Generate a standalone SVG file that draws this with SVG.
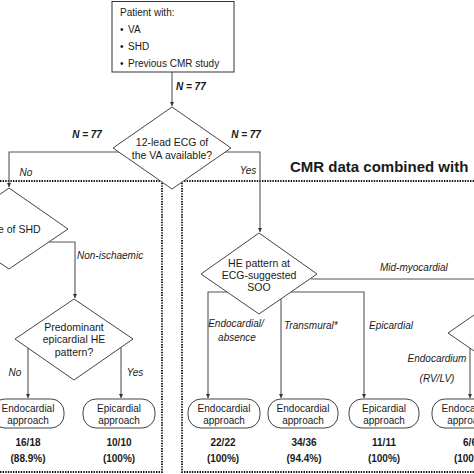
<svg xmlns="http://www.w3.org/2000/svg" width="474" height="474" viewBox="0 0 474 474">
<style>
text{font-family:"Liberation Sans",Arial,sans-serif;font-size:10px;fill:#1a1a1a;text-anchor:middle}
.i{font-style:italic}
.b{font-weight:bold}
.s{text-anchor:start}
.d{font-size:10.5px}
.shape{fill:#fff;stroke:#444;stroke-width:1}
.con{fill:none;stroke:#555;stroke-width:1.1}
.dot{fill:none;stroke:#111;stroke-width:1.8;stroke-dasharray:1.4 1.2}
</style>
<defs>
<marker id="ah" viewBox="0 0 6 6" refX="6" refY="3" markerWidth="4.5" markerHeight="4.5" orient="auto" markerUnits="userSpaceOnUse"><path d="M0,0 L6,3 L0,6 z" fill="#333"/></marker>
</defs>
<rect width="474" height="474" fill="#fff"/>

<g id="panels">
<path class="dot" d="M0,181 H162 V472 H0"/>
<path class="dot" d="M474,181 H182 V472 H474"/>
</g>

<g id="connectors">
<path class="con" d="M172,72 V106" marker-end="url(#ah)"/>
<path class="con" d="M119,152 H9 V187" marker-end="url(#ah)"/>
<path class="con" d="M225,152 H260 V232" marker-end="url(#ah)"/>
<path class="con" d="M49,242 H75 V298" marker-end="url(#ah)"/>
<path class="con" d="M28,348 V398" marker-end="url(#ah)"/>
<path class="con" d="M121,347 V398" marker-end="url(#ah)"/>
<path class="con" d="M228,292 H208 V398" marker-end="url(#ah)"/>
<path class="con" d="M281,299 V398" marker-end="url(#ah)"/>
<path class="con" d="M291,292 H364 V398" marker-end="url(#ah)"/>
<path class="con" d="M311,279 H474"/>
<path class="con" d="M470,348 V398" marker-end="url(#ah)"/>
</g>

<g id="labels">
<text class="b i" x="87" y="138">N = 77</text>
<text class="b i" x="246" y="138">N = 77</text>
<text class="b i s" x="176" y="90">N = 77</text>
<text class="i" x="26" y="176">No</text>
<text class="i" x="248" y="174">Yes</text>
<text class="i s" x="77" y="258.5">Non-ischaemic</text>
<text class="i" x="15" y="375.5">No</text>
<text class="i" x="135" y="375.5">Yes</text>
<text class="i" x="236" y="326.5">Endocardial/</text>
<text class="i" x="237" y="341">absence</text>
<text class="i s" x="284" y="329">Transmural*</text>
<text class="i s" x="369" y="329">Epicardial</text>
<text class="i s" x="380" y="271">Mid-myocardial</text>
<text class="i" x="437" y="362">Endocardium</text>
<text class="i" x="437" y="382">(RV/LV)</text>
<text class="b s" x="290" y="172" style="font-size:15px">CMR data combined with</text>
</g>

<g id="patient">
<rect class="shape" x="112" y="1.5" width="122" height="70.5" style="stroke:#333"/>
<text class="s" x="120" y="16">Patient with:</text>
<text class="s"><tspan x="120" y="33">•</tspan><tspan x="128" y="33">VA</tspan></text>
<text class="s"><tspan x="120" y="50">•</tspan><tspan x="128" y="50">SHD</tspan></text>
<text class="s"><tspan x="120" y="67">•</tspan><tspan x="128" y="67">Previous CMR study</tspan></text>
</g>

<g id="ecg">
<path class="shape" d="M172,107 L231,148 L172,189 L113,148 Z"/>
<text class="d" x="172" y="145.5">12-lead ECG of</text>
<text class="d" x="172" y="158.5">the VA available?</text>
</g>

<g id="shd">
<path class="shape" d="M9,188 L68,229 L9,269 L-50,229 Z"/>
<text class="s d" x="-2" y="232.5">e of SHD</text>
</g>

<g id="epihe">
<path class="shape" d="M74,299 L133,339 L74,380 L15,339 Z"/>
<text class="d" x="74" y="330.5">Predominant</text>
<text class="d" x="74" y="343">epicardial HE</text>
<text class="d" x="74" y="355.5">pattern?</text>
</g>

<g id="hesoo">
<path class="shape" d="M259,233 L317,274 L259,314 L201,274 Z"/>
<text class="d" x="259" y="266.5">HE pattern at</text>
<text class="d" x="259" y="278.5">ECG-suggested</text>
<text class="d" x="259" y="290.5">SOO</text>
</g>

<g id="midmyo">
<path class="shape" d="M506,293 L564,333 L506,373 L448,333 Z"/>
</g>

<g id="r1">
<rect class="shape" x="-8" y="399" width="72" height="29" rx="13"/>
<text x="28" y="411.5">Endocardial</text><text x="28" y="423.5">approach</text>
<text class="b" x="28" y="445.5">16/18</text><text class="b" x="28" y="461.5">(88.9%)</text>
</g>
<g id="r2">
<rect class="shape" x="83" y="399" width="72" height="29" rx="13"/>
<text x="119" y="411.5">Epicardial</text><text x="119" y="423.5">approach</text>
<text class="b" x="119" y="445.5">10/10</text><text class="b" x="119" y="461.5">(100%)</text>
</g>
<g id="r3">
<rect class="shape" x="188" y="399" width="72" height="29" rx="13"/>
<text x="224" y="411.5">Endocardial</text><text x="224" y="423.5">approach</text>
<text class="b" x="223" y="445.5">22/22</text><text class="b" x="223" y="461.5">(100%)</text>
</g>
<g id="r4">
<rect class="shape" x="268" y="399" width="70" height="29" rx="13"/>
<text x="303" y="411.5">Endocardial</text><text x="303" y="423.5">approach</text>
<text class="b" x="304" y="445.5">34/36</text><text class="b" x="304" y="461.5">(94.4%)</text>
</g>
<g id="r5">
<rect class="shape" x="349" y="399" width="70" height="29" rx="13"/>
<text x="384" y="411.5">Epicardial</text><text x="384" y="423.5">approach</text>
<text class="b" x="384" y="445.5">11/11</text><text class="b" x="384" y="461.5">(100%)</text>
</g>
<g id="r6">
<rect class="shape" x="432" y="399" width="72" height="29" rx="13"/>
<text x="468" y="411.5">Endocardial</text><text x="468" y="423.5">approach</text>
<text class="b" x="470" y="445.5">6/6</text><text class="b" x="470" y="461.5">(100%)</text>
</g>
</svg>
